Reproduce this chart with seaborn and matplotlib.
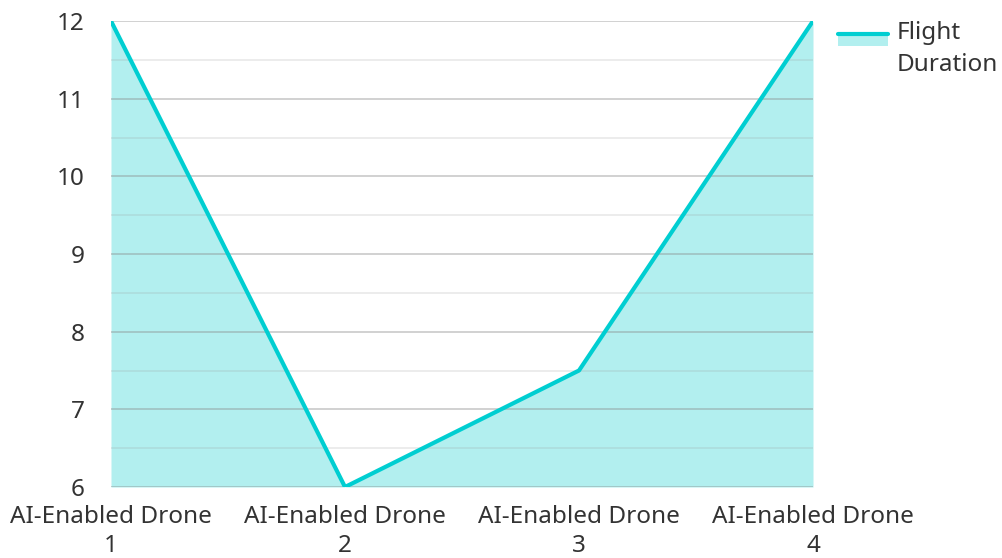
"""Flight duration area chart."""

import matplotlib

matplotlib.use("Agg")

import matplotlib.pyplot as plt
import pandas as pd
import seaborn as sns
from matplotlib.legend_handler import HandlerBase
from matplotlib.lines import Line2D
from matplotlib.patches import Rectangle
from matplotlib.ticker import MultipleLocator

categories = ["AI-Enabled Drone\n1", "AI-Enabled Drone\n2", "AI-Enabled Drone\n3", "AI-Enabled Drone\n4"]
flight_duration = [12, 6, 7.5, 12]
series_name = "Flight\nDuration"

LINE = "#00CED1"
FILL = "#B2EFEF"
FS = 17.5


class AreaHandler(HandlerBase):
    # line sits at the first text line, fill just below it
    def create_artists(self, legend, orig, xd, yd, width, height, fontsize, trans):
        mid = -yd + height / 2
        rect = Rectangle((-xd, mid + 2.2), width, 8.6, facecolor=FILL, edgecolor="none", transform=trans)
        line = Line2D([-xd, -xd + width], [mid + 11.2] * 2, color=LINE, lw=3, transform=trans)
        return [rect, line]


frame = pd.DataFrame({"category": categories, "value": flight_duration})
frame["pos"] = range(len(frame))

sns.set_style("white")
plt.rcParams["font.family"] = ["Noto Sans", "DejaVu Sans"]

fig = plt.figure(figsize=(10.03, 5.58), dpi=100)
ax = fig.add_axes([111 / 1003, 1 - 487 / 558, (813 - 111) / 1003, (487 - 21) / 558])

ax.fill_between(frame["pos"], frame["value"], 6, color=FILL, lw=0, zorder=1)
sns.lineplot(data=frame, x="pos", y="value", color=LINE, lw=3, ax=ax, zorder=3, legend=False)

ax.set_xlim(0, len(frame) - 1)
ax.set_ylim(6, 12)
ax.set_xticks(frame["pos"])
ax.set_xticklabels(frame["category"], fontsize=FS, color="#333333", linespacing=1.3)
ax.yaxis.set_major_locator(MultipleLocator(1))
ax.yaxis.set_minor_locator(MultipleLocator(0.5))
ax.tick_params(axis="y", which="major", labelsize=FS, labelcolor="#333333", length=0, pad=19)
ax.tick_params(axis="x", length=0, pad=13)
ax.tick_params(axis="y", which="minor", length=0)
ax.set_axisbelow(False)
ax.grid(axis="y", which="major", color="#888888", alpha=0.45, lw=1.2)
ax.grid(axis="y", which="minor", color="#999999", alpha=0.22, lw=1.2)
ax.set_xlabel("")
ax.set_ylabel("")
for spine in ax.spines.values():
    spine.set_visible(False)

legend = fig.legend(
    handles=[Rectangle((0, 0), 1, 1)],
    labels=[series_name],
    handler_map={Rectangle: AreaHandler()},
    loc="upper left",
    bbox_to_anchor=(838 / 1003, 1 - 21 / 558),
    frameon=False,
    fontsize=FS,
    borderpad=0,
    borderaxespad=0,
    handlelength=2.05,
    handleheight=0.8,
    handletextpad=0.37,
    labelcolor="#333333",
)
legend.get_texts()[0].set_linespacing(1.42)

fig.savefig("out.png", dpi=100)
plt.close(fig)
